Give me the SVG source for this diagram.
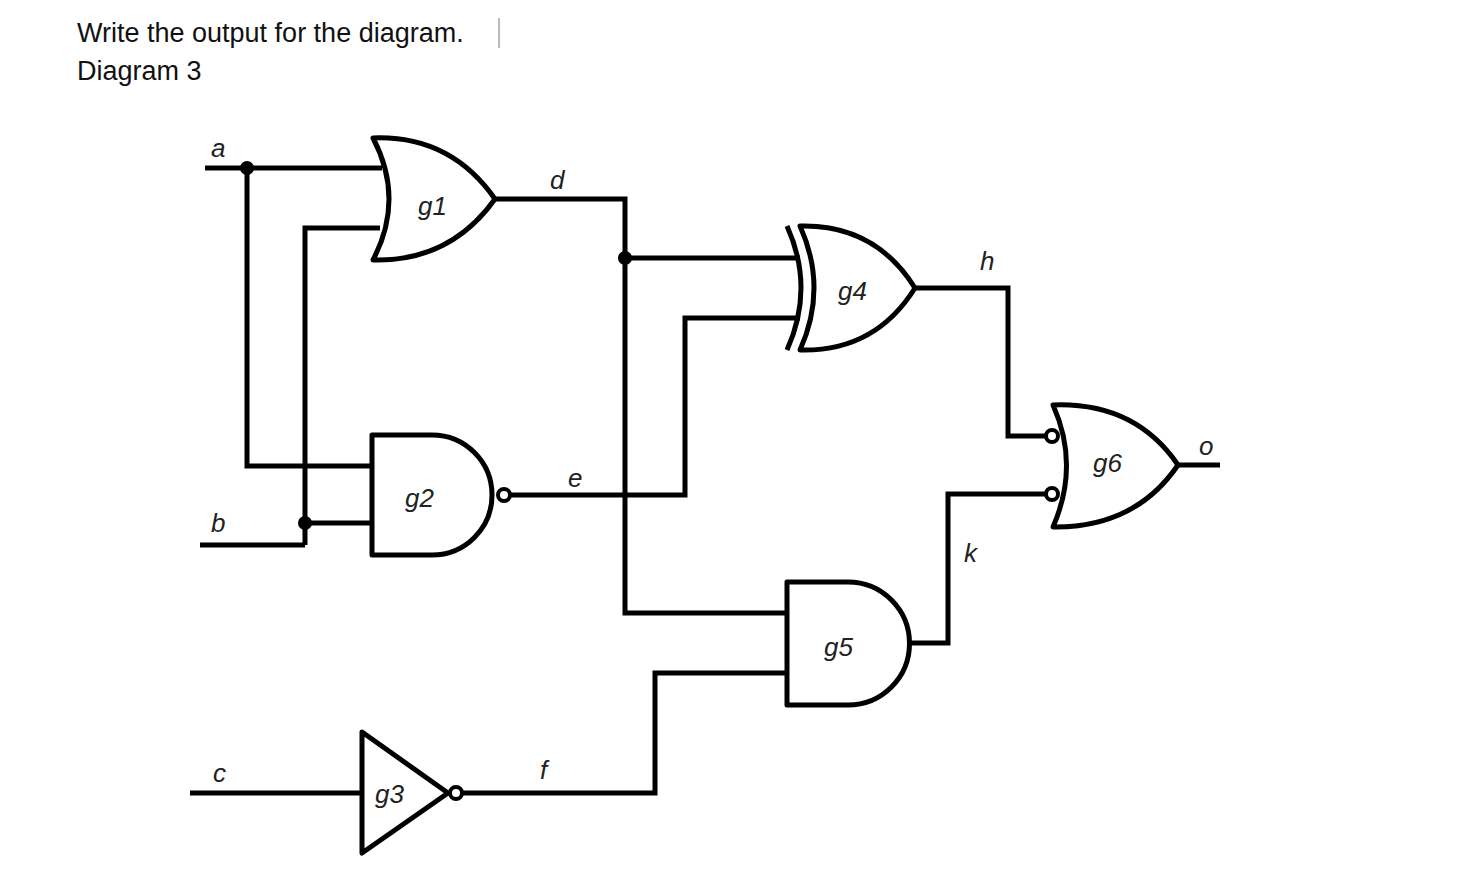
<svg xmlns="http://www.w3.org/2000/svg" width="1478" height="890" viewBox="0 0 1478 890">
<style>
.w{fill:none;stroke:#000;stroke-width:5;stroke-linejoin:miter}
.g{fill:#fff;stroke:#000;stroke-width:5;stroke-linejoin:round}
.b{fill:#fff;stroke:#000;stroke-width:4}
.l{font-family:"Liberation Sans",Arial,sans-serif;font-size:26px;font-style:italic;fill:#222}
.t{font-family:"Liberation Sans",Arial,sans-serif;font-size:27px;fill:#111}
</style>
<rect width="1478" height="890" fill="#fff"/>
<text class="t" x="77" y="42">Write the output for the diagram.</text>
<line x1="499" y1="18" x2="499" y2="48" stroke="#bbb" stroke-width="2"/>
<text class="t" x="77" y="80">Diagram 3</text>
<g id="connectors">
<path class="w" d="M205 168H382M247 168V466H372M305 545V228H380M200 545H305M305 523H372"/>
<path class="w" d="M495 199H625V613H787M625 258H800"/>
<path class="w" d="M510 495H685V318H800"/>
<path class="w" d="M915 288H1008V436H1046"/>
<path class="w" d="M908 643H948V494H1046"/>
<path class="w" d="M1178 465H1220"/>
<path class="w" d="M190 793H362M463 793H655V673H787"/>
<circle cx="247" cy="168" r="7"/>
<circle cx="305" cy="523" r="7"/>
<circle cx="625" cy="258" r="7"/>
</g>
<g id="g1"><path class="g" d="M373 138Q450 135 495 199Q450 262 373 260Q405 199 373 138Z"/><text class="l" x="418" y="215">g1</text></g>
<g id="g2"><path class="g" d="M372 435H432A60 60 0 0 1 432 555H372Z"/><circle class="b" cx="504" cy="495" r="6"/><text class="l" x="405" y="507">g2</text></g>
<g id="g3"><path class="g" d="M362 732L448 793L362 853Z"/><circle class="b" cx="456" cy="793" r="6"/><text class="l" x="375" y="803">g3</text></g>
<g id="g4"><path class="w" d="M787 226Q815 288 787 350"/><path class="g" d="M800 226Q875 224 915 288Q875 352 800 350Q828 288 800 226Z"/><text class="l" x="838" y="300">g4</text></g>
<g id="g5"><path class="g" d="M787 582H848A61 61 0 0 1 848 705H787Z"/><text class="l" x="824" y="656">g5</text></g>
<g id="g6"><path class="g" d="M1053 405Q1135 402 1178 465Q1135 528 1053 527Q1080 465 1053 405Z"/><circle class="b" cx="1052" cy="436" r="6"/><circle class="b" cx="1052" cy="494" r="6"/><text class="l" x="1093" y="472">g6</text></g>
<g id="labels">
<text class="l" x="211" y="157">a</text>
<text class="l" x="211" y="532">b</text>
<text class="l" x="213" y="782">c</text>
<text class="l" x="550" y="189">d</text>
<text class="l" x="568" y="487">e</text>
<text class="l" x="540" y="779">f</text>
<text class="l" x="980" y="270">h</text>
<text class="l" x="964" y="562">k</text>
<text class="l" x="1199" y="455">o</text>
</g>
</svg>
